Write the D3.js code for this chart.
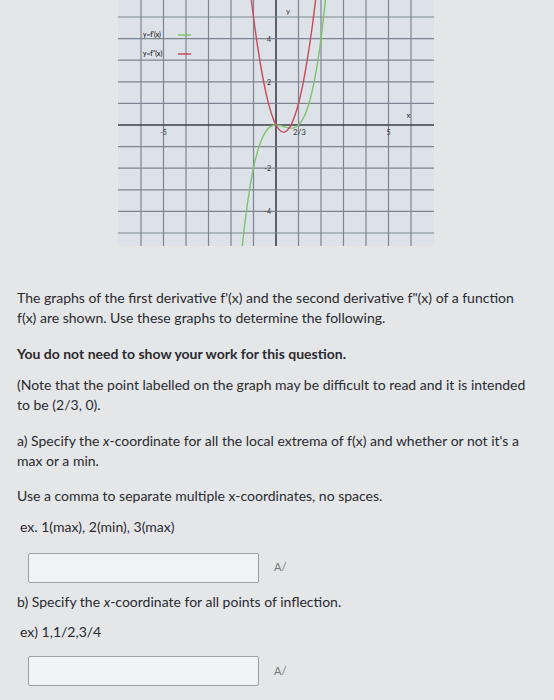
<!DOCTYPE html><html><head><meta charset="utf-8">
<script src="https://cdn.jsdelivr.net/npm/d3@7"></script>
<style>
body{margin:0;width:554px;height:700px;background:#e4e6e8;font-family:Lato,"Open Sans",sans-serif;color:#2a2a30;overflow:hidden;position:relative}
.t{position:absolute;left:17px;font-size:14px;white-space:nowrap}
.box{position:absolute;left:28px;width:229px;height:28px;border:1px solid #9aa0a6;background:#f2f3f4;border-radius:2px}
.ic{position:absolute;left:274px;font-size:11px;color:#777}
</style></head><body>
<svg id="c" width="554" height="250" style="position:absolute;left:0;top:0"></svg>
<div class="t" style="top:289px">The graphs of the first derivative f'(x) and the second derivative f"(x) of a function</div>
<div class="t" style="top:309px">f(x) are shown. Use these graphs to determine the following.</div>
<div class="t" style="top:345px;font-weight:bold">You do not need to show your work for this question.</div>
<div class="t" style="top:376px">(Note that the point labelled on the graph may be difficult to read and it is intended</div>
<div class="t" style="top:396px">to be (2/3, 0).</div>
<div class="t" style="top:432px">a) Specify the <i>x</i>-coordinate for all the local extrema of f(x) and whether or not it's a</div>
<div class="t" style="top:452px">max or a min.</div>
<div class="t" style="top:487px">Use a comma to separate multiple x-coordinates, no spaces.</div>
<div class="t" style="top:518px;left:20px">ex. 1(max), 2(min), 3(max)</div>
<div class="box" style="top:553px"></div><div class="ic" style="top:560px">A/</div>
<div class="t" style="top:593px">b) Specify the <i>x</i>-coordinate for all points of inflection.</div>
<div class="t" style="top:623px;left:20px">ex) 1,1/2,3/4</div>
<div class="box" style="top:656px"></div><div class="ic" style="top:664px">A/</div>
<script>
const xTicks=[-6,-5,-4,-3,-2,-1,0,1,2,3,4,5,6];
const yTicks=[5,4,3,2,1,0,-1,-2,-3,-4,-5];
const fpX=[-1.6,-1.4,-1.2,-1.0,-0.8,-0.6,-0.4,-0.2,0,0.2,0.4,0.6,0.8,1.0,1.2,1.4,1.6,1.8,2.0,2.2];
const fpY=[-6.66,-4.70,-3.17,-2,-1.15,-0.58,-0.22,-0.05,0,-0.03,-0.10,-0.14,-0.13,0,0.29,0.78,1.54,2.59,4,5.81];
const fppX=[-1.1,-1.0,-0.8,-0.6,-0.4,-0.2,0,0.2,0.33,0.4,0.6,0.8,1.0,1.2,1.4,1.6,1.8];
const fppY=[5.83,5,3.52,2.28,1.28,0.52,0,-0.28,-0.33,-0.32,-0.12,0.32,1,1.92,3.08,4.48,6.12];
const yLabels=[4,2,-2,-4];
const xLabels=[-5,5];
const svg=d3.select("#c");
const x=d3.scaleLinear().domain([-6,6]).range([141,411]);
const y=d3.scaleLinear().domain([0,5]).range([125,17]);
svg.append("rect").attr("x",118).attr("y",0).attr("width",316).attr("height",246).attr("fill","#dde2e8");
const g=svg.append("g");
g.selectAll(".v").data(xTicks).join("line").attr("x1",d=>x(d)).attr("x2",d=>x(d)).attr("y1",0).attr("y2",246)
 .attr("stroke",d=>d===0?"#3a3f48":"#7d8590").attr("stroke-width",d=>d===0?1.6:1.2);
g.selectAll(".h").data(yTicks).join("line").attr("y1",d=>y(d)).attr("y2",d=>y(d)).attr("x1",118).attr("x2",434)
 .attr("stroke",d=>d===0?"#3a3f48":"#7d8590").attr("stroke-width",d=>d===0?1.6:1.2);
svg.append("clipPath").attr("id","cp").append("rect").attr("x",118).attr("y",0).attr("width",316).attr("height",246);
const line=d3.line().curve(d3.curveCatmullRom);
svg.append("path").attr("clip-path","url(#cp)").attr("d",line(fpX.map((v,i)=>[x(v),y(fpY[i])]))).attr("fill","none").attr("stroke","#7cc46a").attr("stroke-width",1.4);
svg.append("path").attr("clip-path","url(#cp)").attr("d",line(fppX.map((v,i)=>[x(v),y(fppY[i])]))).attr("fill","none").attr("stroke","#c84a5a").attr("stroke-width",1.4);
svg.selectAll(".yl").data(yLabels).join("text").attr("x",x(0)-5).attr("y",d=>y(d)+3).attr("font-size",7).attr("text-anchor","end").attr("fill","#333").text(d=>d);
svg.selectAll(".xl").data(xLabels).join("text").attr("x",d=>x(d)).attr("y",y(0)+10).attr("font-size",7).attr("text-anchor","middle").attr("fill","#333").text(d=>d);
svg.append("text").attr("x",x(0)+10).attr("y",14).attr("font-size",8).attr("fill","#333").text("y");
svg.append("text").attr("x",x(5.8)).attr("y",y(0)-7).attr("font-size",8).attr("fill","#333").text("x");
svg.append("text").attr("x",x(2/3)+2).attr("y",y(0)+10).attr("font-size",8).attr("fill","#333").text("2/3");
[["y=f'(x)","#7cc46a",35],["y=f''(x)","#c84a5a",54]].forEach(([t,c,yy])=>{
 svg.append("text").attr("x",143).attr("y",yy+2).attr("font-size",6.5).attr("font-weight","bold").attr("fill","#333").text(t);
 svg.append("line").attr("x1",178).attr("x2",191).attr("y1",yy).attr("y2",yy).attr("stroke",c).attr("stroke-width",1.5);
});
</script></body></html>
